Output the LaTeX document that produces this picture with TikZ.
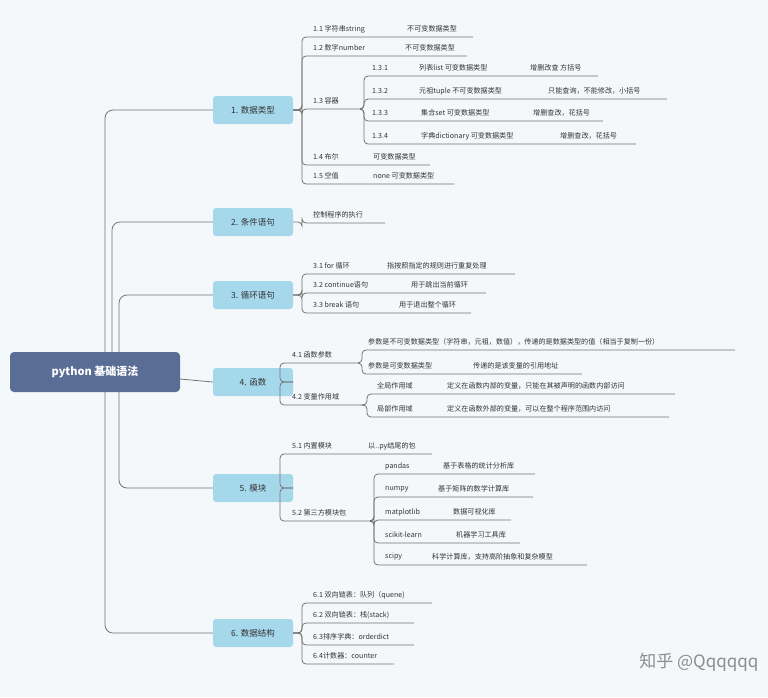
\documentclass[tikz,border=0pt]{standalone}
\usepackage{fontspec}
\setmainfont{Noto Sans CJK SC}
\begin{document}
\begin{tikzpicture}[x=1pt,y=-1pt,
  conn/.style={draw=black!55,line width=0.8pt,rounded corners=4pt},
  lt/.style={anchor=west,inner sep=0pt,font=\fontsize{7.1}{8}\selectfont,text=black!80},
  l1/.style={rounded corners=3pt,minimum width=80pt,minimum height=28pt,font=\fontsize{8.5}{10}\selectfont,text=black!80,inner sep=2pt},
]
\definecolor{bg}{HTML}{F4F8FB}
\definecolor{rootc}{HTML}{5A6D95}
\definecolor{boxc}{HTML}{A6D8EC}
\fill[bg] (0,0) rectangle (768,697);
\useasboundingbox (0,0) rectangle (768,697);
% root
\node[fill=rootc,rounded corners=4pt,minimum width=170pt,minimum height=40pt,text=white,font=\bfseries\fontsize{11}{13}\selectfont] (root) at (95,372) {python 基础语法};
\node[l1,fill=boxc] (b1) at (253,110) {1. 数据类型};
\node[l1,fill=boxc] (b2) at (253,222) {2. 条件语句};
\node[l1,fill=boxc] (b3) at (253,295) {3. 循环语句};
\node[l1,fill=boxc] (b4) at (253,382) {4. 函数};
\node[l1,fill=boxc] (b5) at (253,488) {5. 模块};
\node[l1,fill=boxc] (b6) at (253,633) {6. 数据结构};
\draw[conn,rounded corners=8pt] (105,352) |- (b1.west);
\draw[conn,rounded corners=8pt] (112,352) |- (b2.west);
\draw[conn,rounded corners=8pt] (119,352) |- (b3.west);
\draw[conn] (180,379) -- (b4.west);
\draw[conn,rounded corners=8pt] (119,392) |- (b5.west);
\draw[conn,rounded corners=8pt] (105,392) |- (b6.west);
% helper: leaf line
\newcommand\lp[5]{% name, bracket x, y, end x, parent
  \draw[conn] (#5) -| (#2,{#3+8}) -- (#4,{#3+8});}
% 1
\coordinate (p1) at (b1.east);
\node[lt] (t11) at (313,29) {1.1 字符串string}; \node[lt] at (407,29) {不可变数据类型}; \lp{}{302}{29}{473}{p1}
\node[lt] (t12) at (313,48) {1.2 数字number}; \node[lt] at (405,48) {不可变数据类型}; \lp{}{302}{48}{467}{p1}
\node[lt] (t13) at (313,101) {1.3 容器}; \lp{}{302}{101}{360}{p1}
\coordinate (p13) at (360,109);
\node[lt] at (372,68) {1.3.1}; \node[lt] at (419,68) {列表list 可变数据类型}; \node[lt] at (530,68) {增删改查 方括号}; \lp{}{364}{68}{598}{p13}
\node[lt] at (372,91) {1.3.2}; \node[lt] at (419,91) {元祖tuple 不可变数据类型}; \node[lt] at (548,91) {只能查询，不能修改，小括号}; \lp{}{364}{91}{667}{p13}
\node[lt] at (372,113) {1.3.3}; \node[lt] at (421,113) {集合set 可变数据类型}; \node[lt] at (533,113) {增删查改，花括号}; \lp{}{364}{113}{603}{p13}
\node[lt] at (372,136) {1.3.4}; \node[lt] at (421,136) {字典dictionary 可变数据类型}; \node[lt] at (560,136) {增删查改，花括号}; \lp{}{364}{136}{636}{p13}
\node[lt] at (313,157) {1.4 布尔}; \node[lt] at (373,157) {可变数据类型}; \lp{}{302}{157}{430}{p1}
\node[lt] at (313,176) {1.5 空值}; \node[lt] at (373,176) {none 可变数据类型}; \lp{}{302}{176}{454}{p1}
% 2
\coordinate (p2) at (b2.east);
\node[lt] at (313,215) {控制程序的执行}; \lp{}{302}{215}{385}{p2}
% 3
\coordinate (p3) at (b3.east);
\node[lt] at (313,266) {3.1 for 循环}; \node[lt] at (387,266) {指按照指定的规则进行重复处理}; \lp{}{302}{266}{515}{p3}
\node[lt] at (313,285) {3.2 continue语句}; \node[lt] at (411,285) {用于跳出当前循环}; \lp{}{302}{285}{486}{p3}
\node[lt] at (313,305) {3.3 break 语句}; \node[lt] at (399,305) {用于退出整个循环}; \lp{}{302}{305}{471}{p3}
% 4
\coordinate (p4) at (b4.east);
\node[lt] at (292,355) {4.1 函数参数}; \lp{}{280}{355}{358}{p4}
\coordinate (p41) at (358,363);
\node[lt] at (368,342) {参数是不可变数据类型（字符串，元祖，数值），传递的是数据类型的值（相当于复制一份）}; \lp{}{362}{342}{735}{p41}
\node[lt] at (368,366) {参数是可变数据类型}; \node[lt] at (473,366) {传递的是该变量的引用地址}; \lp{}{362}{366}{582}{p41}
\node[lt] at (292,397) {4.2 变量作用域}; \lp{}{280}{397}{364}{p4}
\coordinate (p42) at (364,405);
\node[lt] at (377,386) {全局作用域}; \node[lt] at (447,386) {定义在函数内部的变量，只能在其被声明的函数内部访问}; \lp{}{367}{386}{675}{p42}
\node[lt] at (377,409) {局部作用域}; \node[lt] at (447,409) {定义在函数外部的变量，可以在整个程序范围内访问}; \lp{}{367}{409}{669}{p42}
% 5
\coordinate (p5) at (b5.east);
\node[lt] at (292,446) {5.1 内置模块}; \node[lt] at (368,446) {以..py结尾的包}; \lp{}{280}{446}{432}{p5}
\node[lt] at (292,513) {5.2 第三方模块包}; \lp{}{280}{513}{370}{p5}
\coordinate (p52) at (370,521);
\node[lt] at (385,466) {pandas}; \node[lt] at (443,466) {基于表格的统计分析库}; \lp{}{374}{466}{535}{p52}
\node[lt] at (385,489) {numpy}; \node[lt] at (438,489) {基于矩阵的数学计算库}; \lp{}{374}{489}{533}{p52}
\node[lt] at (385,512) {matplotlib}; \node[lt] at (453,512) {数据可视化库}; \lp{}{374}{512}{511}{p52}
\node[lt] at (385,535) {scikit-learn}; \node[lt] at (456,535) {机器学习工具库}; \lp{}{374}{535}{520}{p52}
\node[lt] at (385,557) {scipy}; \node[lt] at (432,557) {科学计算库，支持高阶抽象和复杂模型}; \lp{}{374}{557}{587}{p52}
% 6
\coordinate (p6) at (b6.east);
\node[lt] at (313,595) {6.1 双向链表：队列（quene)}; \lp{}{302}{595}{432}{p6}
\node[lt] at (313,615) {6.2 双向链表：栈(stack)}; \lp{}{302}{615}{414}{p6}
\node[lt] at (313,637) {6.3排序字典：orderdict}; \lp{}{302}{637}{414}{p6}
\node[lt] at (313,656) {6.4计数器：counter}; \lp{}{302}{656}{394}{p6}
% watermark
\node[anchor=east,text=black!45,font=\fontsize{17}{20}\selectfont] (wm) at (762,662) {知乎 @Qqqqqq};
\end{tikzpicture}
\end{document}
